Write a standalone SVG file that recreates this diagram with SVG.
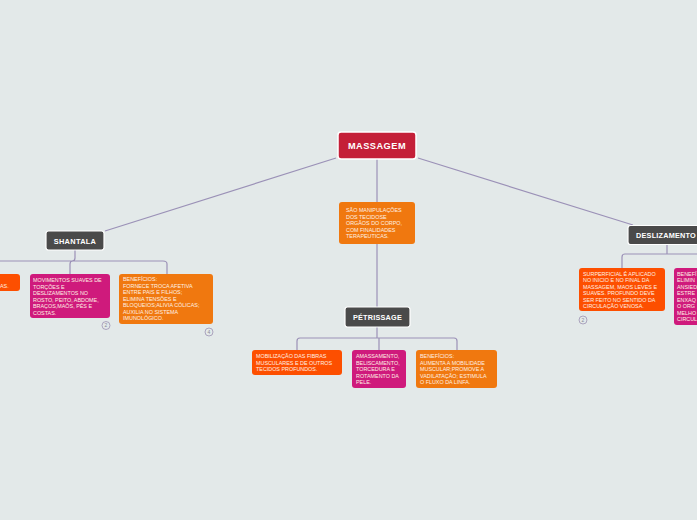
<svg xmlns="http://www.w3.org/2000/svg" width="697" height="520" viewBox="0 0 697 520">
<defs>
<style>
.bg{fill:#e3e9e9}
.ln{fill:none;stroke:#9b91b7;stroke-width:1.2}
.dark{fill:#4a4a4a;stroke:#ffffff;stroke-width:1.2}
.root{fill:#c41f38;stroke:#ffffff;stroke-width:1.5}
.or{fill:#f0780f}
.rd{fill:#fd4f00}
.mg{fill:#cf1a7c}
.tt{font-family:"Liberation Sans",Arial,sans-serif;font-weight:bold;fill:#ffffff;text-anchor:middle}
.sm{font-family:"Liberation Sans",Arial,sans-serif;font-size:5.4px;fill:#fff1e4}
.bd{fill:none;stroke:#9d92b3;stroke-width:0.8}
.bn{font-family:"Liberation Sans",Arial,sans-serif;font-size:5px;fill:#8a8a9a;text-anchor:middle}
</style>
</defs>
<rect class="bg" x="0" y="0" width="697" height="520"/>
<g id="connectors">
<line class="ln" x1="377" y1="159" x2="377" y2="307"/>
<line class="ln" x1="336" y1="158" x2="105" y2="231"/>
<line class="ln" x1="418" y1="158" x2="633" y2="225"/>
<path class="ln" d="M377 327 V338 M297 350 V341 Q297 338 300 338 H454 Q457 338 457 341 V350 M379 338 V350"/>
<path class="ln" d="M75 250 V258 Q75 261 72 261 H-5 M70 274 V264 Q70 261 73 261 H163 Q167 261 167 264 V274"/>
<path class="ln" d="M667 245 V254 H625 Q622 254 622 257 V268 M667 254 H705"/>
</g>
<g id="massagem">
<rect class="root" x="338" y="132" width="78" height="27" rx="3"/>
<text class="tt" x="377" y="149" font-size="9.2" letter-spacing="0.5">MASSAGEM</text>
</g>
<g id="definicao">
<rect class="or" x="339" y="202" width="76" height="42" rx="3"/>
<text class="sm" x="346"><tspan x="346" y="212">SÃO MANIPULAÇÕES</tspan><tspan x="346" y="218.5">DOS TECIDOSE</tspan><tspan x="346" y="225">ORGÃOS DO CORPO,</tspan><tspan x="346" y="231.5">COM FINALIDADES</tspan><tspan x="346" y="238">TERAPEUTICAS.</tspan></text>
</g>
<g id="petrissage">
<rect class="dark" x="345" y="307" width="65" height="20" rx="2.5"/>
<text class="tt" x="377.5" y="320" font-size="7.3" letter-spacing="0.2">PÉTRISSAGE</text>
</g>
<g id="p-mobilizacao">
<rect class="rd" x="252" y="350" width="90" height="25" rx="3"/>
<text class="sm"><tspan x="256" y="358">MOBILIZAÇÃO DAS FIBRAS</tspan><tspan x="256" y="364.5">MUSCULARES E DE OUTROS</tspan><tspan x="256" y="371">TECIDOS PROFUNDOS.</tspan></text>
</g>
<g id="p-amassamento">
<rect class="mg" x="352" y="350" width="54" height="38" rx="3"/>
<text class="sm"><tspan x="356" y="358">AMASSAMENTO,</tspan><tspan x="356" y="364.5">BELISCAMENTO,</tspan><tspan x="356" y="371">TORCEDURA E</tspan><tspan x="356" y="377.5">ROTAMENTO DA</tspan><tspan x="356" y="384">PELE.</tspan></text>
</g>
<g id="p-beneficios">
<rect class="or" x="416" y="350" width="81" height="38" rx="3"/>
<text class="sm"><tspan x="420" y="358">BENEFÍCIOS:</tspan><tspan x="420" y="364.5">AUMENTA A MOBILIDADE</tspan><tspan x="420" y="371">MUSCULAR;PROMOVE A</tspan><tspan x="420" y="377.5">VADILATAÇÃO; ESTIMULA</tspan><tspan x="420" y="384">O FLUXO DA LINFA.</tspan></text>
</g>
<g id="shantala">
<rect class="dark" x="46" y="231" width="58" height="19" rx="2.5"/>
<text class="tt" x="75" y="243.5" font-size="7.4" letter-spacing="0.3">SHANTALA</text>
</g>
<g id="s-clipped">
<rect class="rd" x="-20" y="274" width="40" height="17" rx="3"/>
<text class="sm"><tspan x="0" y="288">AS.</tspan></text>
</g>
<g id="s-movimentos">
<rect class="mg" x="30" y="274" width="80" height="44" rx="3"/>
<text class="sm"><tspan x="33" y="282">MOVIMENTOS SUAVES DE</tspan><tspan x="33" y="288.5">TORÇÕES E</tspan><tspan x="33" y="295">DESLIZAMENTOS NO</tspan><tspan x="33" y="301.5">ROSTO, PEITO, ABDOME,</tspan><tspan x="33" y="308">BRAÇOS,MAÕS, PÉS E</tspan><tspan x="33" y="314.5">COSTAS.</tspan></text>
<circle class="bd" cx="106" cy="325.5" r="4"/>
<text class="bn" x="106" y="327.3">2</text>
</g>
<g id="s-beneficios">
<rect class="or" x="119" y="274" width="94" height="50" rx="3"/>
<text class="sm"><tspan x="123" y="281">BENEFÍCIOS:</tspan><tspan x="123" y="287.5">FORNECE TROCA AFETIVA</tspan><tspan x="123" y="294">ENTRE PAIS E FILHOS;</tspan><tspan x="123" y="300.5">ELIMINA TENSÕES E</tspan><tspan x="123" y="307">BLOQUEIOS;ALIVIA CÓLICAS;</tspan><tspan x="123" y="313.5">AUXILIA NO SISTEMA</tspan><tspan x="123" y="320">IMUNOLÓGICO.</tspan></text>
<circle class="bd" cx="209" cy="332" r="4"/>
<text class="bn" x="209" y="333.8">4</text>
</g>
<g id="deslizamento">
<rect class="dark" x="628" y="225.5" width="90" height="19" rx="2.5"/>
<text class="tt" x="666" y="238" font-size="7.3" letter-spacing="0.2">DESLIZAMENTO</text>
</g>
<g id="d-superficial">
<rect class="rd" x="579" y="268" width="86" height="43" rx="3"/>
<text class="sm"><tspan x="583" y="275.5">SURPERFICIAL É APLICADO</tspan><tspan x="583" y="282">NO INICIO E NO FINAL DA</tspan><tspan x="583" y="288.5">MASSAGEM, MAOS LEVES E</tspan><tspan x="583" y="295">SUAVES. PROFUNDO DEVE</tspan><tspan x="583" y="301.5">SER FEITO NO SENTIDO DA</tspan><tspan x="583" y="308">CIRCULAÇÃO VENOSA.</tspan></text>
<circle class="bd" cx="583" cy="320" r="4"/>
<text class="bn" x="583" y="321.8">2</text>
</g>
<g id="d-beneficios">
<rect class="mg" x="674" y="268" width="40" height="57" rx="3"/>
<text class="sm"><tspan x="677" y="275.5">BENEFÍ</tspan><tspan x="677" y="282">ELIMIN</tspan><tspan x="677" y="288.5">ANSIED</tspan><tspan x="677" y="295">ESTRE</tspan><tspan x="677" y="301.5">ENXAQ</tspan><tspan x="677" y="308">O ORG</tspan><tspan x="677" y="314.5">MELHO</tspan><tspan x="677" y="321">CIRCUL</tspan></text>
</g>
</svg>
